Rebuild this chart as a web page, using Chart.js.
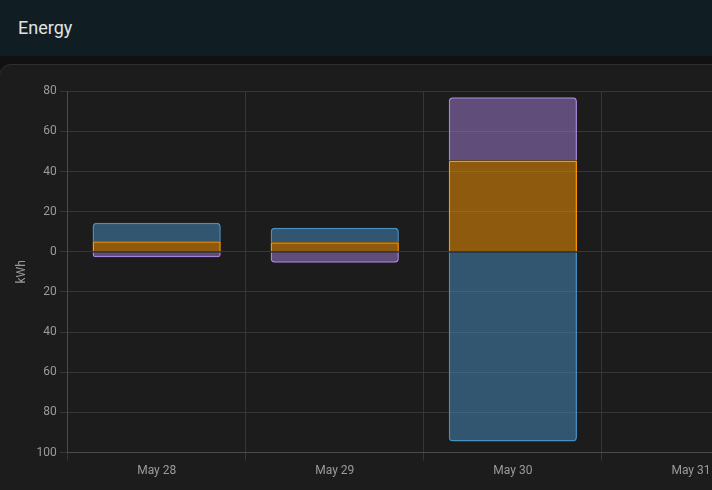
<!DOCTYPE html>
<html>
<head>
<meta charset="utf-8">
<title>Energy</title>
<script src="https://cdn.jsdelivr.net/npm/chart.js@4"></script>
<style>
    html, body { margin: 0; height: 100%; overflow: hidden; background: #111111; font-family: Roboto, sans-serif; }
    .header { height: 56px; background: #101e24; color: #e1e1e1; font-size: 18px; line-height: 56px; padding-left: 18px; }
    .card { position: absolute; left: -1px; top: 64px; width: 800px; height: 460px; background: #1c1c1c; border: 1px solid #2f2f2f; border-radius: 12px; box-sizing: border-box; }
    .chart-box { position: absolute; left: 0; top: 16px; width: 780px; height: 400px; }
</style>
</head>
<body>
<div class="header">Energy</div>
<div class="card">
    <div class="chart-box"><canvas id="energyChart"></canvas></div>
</div>
<script>
const categories = ['May 28', 'May 29', 'May 30', 'May 31'];
const solar = [5.3, 4.8, 45.5, null];
const gridUsed = [9.2, 7.2, -94.5, null];
const batteryOut = [-2.7, -5.4, 31.5, null];
const tickColor = '#9b9b9b';
const gridColor = '#363636';

new Chart(document.getElementById('energyChart'), {
    type: 'bar',
    data: {
        labels: categories,
        datasets: [
            { label: 'Solar', data: solar, borderColor: '#ff9800', backgroundColor: 'rgba(255,152,0,0.5)' },
            { label: 'Grid', data: gridUsed, borderColor: '#488fc2', backgroundColor: 'rgba(72,144,196,0.5)' },
            { label: 'Battery', data: batteryOut, borderColor: '#a285d6', backgroundColor: 'rgba(165,125,215,0.5)' }
        ]
    },
    options: {
        responsive: true,
        maintainAspectRatio: false,
        animation: false,
        devicePixelRatio: 1,
        layout: { padding: { left: 11 } },
        datasets: { bar: { borderWidth: 1.5, borderRadius: 4 } },
        plugins: { legend: { display: false }, tooltip: { enabled: false } },
        scales: {
            x: {
                stacked: true,
                ticks: { color: tickColor, font: { family: 'Roboto', size: 12 }, maxRotation: 0, autoSkip: false },
                grid: { color: gridColor },
                border: { color: '#4a4a4a' }
            },
            y: {
                stacked: true,
                min: -100,
                max: 80,
                ticks: {
                    stepSize: 20,
                    color: tickColor,
                    font: { family: 'Roboto', size: 12 },
                    callback: (value) => Math.abs(value)
                },
                grid: { color: gridColor },
                border: { color: '#4a4a4a' },
                title: { display: true, text: 'kWh', color: tickColor, font: { family: 'Roboto', size: 12 } }
            }
        }
    }
});
</script>
</body>
</html>
